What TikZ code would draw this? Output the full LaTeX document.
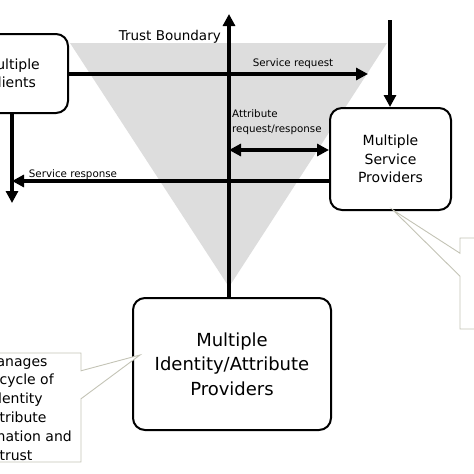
\documentclass[tikz,border=0pt]{standalone}
\usepackage{fontspec}
\setmainfont{DejaVu Sans}
\usepackage{xcolor}
\usepackage{tikz}
\usetikzlibrary{
  positioning,
  arrows.meta,
  shapes.callouts,
  calc
}
\definecolor{zonegray}{RGB}{221,221,221}
\definecolor{notegray}{RGB}{196,196,182}
\tikzset{
  >=Triangle,
  flowarrow/.style={-{Triangle[length=12pt,width=12pt]},line width=3.2pt},
  twoway/.style={{Triangle[length=12pt,width=12pt]}-{Triangle[length=12pt,width=12pt]},line width=3.2pt},
  party/.style={rectangle,draw,line width=2pt,rounded corners=12pt,fill=white,align=center,inner sep=0pt},
  msg/.style={font=\fontsize{10.3}{15}\selectfont,inner sep=0pt},
  zonelabel/.style={font=\fontsize{13.5}{16}\selectfont,inner sep=0pt},
  note/.style={rectangle callout,draw=notegray,line width=0.9pt,fill=white},
  notetext/.style={align=center,font=\fontsize{14}{18.8}\selectfont,inner sep=0pt}
}

\begin{document}
\begin{tikzpicture}[x=1pt,y=-1pt]
    \useasboundingbox (0,0) rectangle (474,474);
    \clip (0,0) rectangle (474,474);

    % trust zone
    \fill[zonegray] (70,43) -- (387,43) -- (229,287) -- cycle;

    \coordinate (tb) at (229,14);
    \coordinate (reqend) at (368,74);
    \coordinate (respend) at (12,181);
    \coordinate (cliend) at (12,203);
    \coordinate (spin) at (390,20);
    \coordinate (attr) at (229,150);

    \node[party,minimum width=112pt,minimum height=79pt,font=\fontsize{14}{18}\selectfont] (clients) at (12,73.5) {Multiple\\Clients};
    \node[party,minimum width=121pt,minimum height=102pt,font=\fontsize{14}{18.5}\selectfont] (sp) at (390.5,159) {Multiple\\Service\\Providers};
    \node[party,minimum width=198pt,minimum height=132pt,font=\fontsize{18}{24.5}\selectfont] (idp) at (232,364) {Multiple\\Identity/Attribute\\Providers};

    \draw[flowarrow] (idp.north -| tb) -- (tb);
    \draw[flowarrow] (clients.east |- reqend) -- (reqend);
    \draw[flowarrow] (sp.west |- respend) -- (respend);
    \draw[flowarrow] (clients.south -| cliend) -- (cliend);
    \draw[flowarrow] (spin) -- (spin |- sp.north);
    \draw[twoway] (attr) -- (attr -| sp.west);

    \node[zonelabel,anchor=base east] (tblabel) at (221,40) {Trust Boundary};
    \node[msg,anchor=base] (reqlabel) at (293,66) {Service request};
    \node[msg,anchor=base] (resplabel) at (73,177) {Service response};
    \node[msg,anchor=north west,align=left] (attrlabel) at (232,109) {Attribute\\request/response};

    % callouts
    \node[note,minimum width=90pt,minimum height=109pt,callout pointer width=28pt,callout absolute pointer={(140,355)}] (leftnote) at (36,407.5) {};
    \node[notetext] (lefttext) at (16,408) {Manages\\lifecycle of\\identity\\attribute\\information and\\trust};
    \node[note,minimum width=46pt,minimum height=91pt,callout pointer width=23pt,callout absolute pointer={(393,210)}] (rightnote) at (483,283.5) {};
\end{tikzpicture}
\end{document}
